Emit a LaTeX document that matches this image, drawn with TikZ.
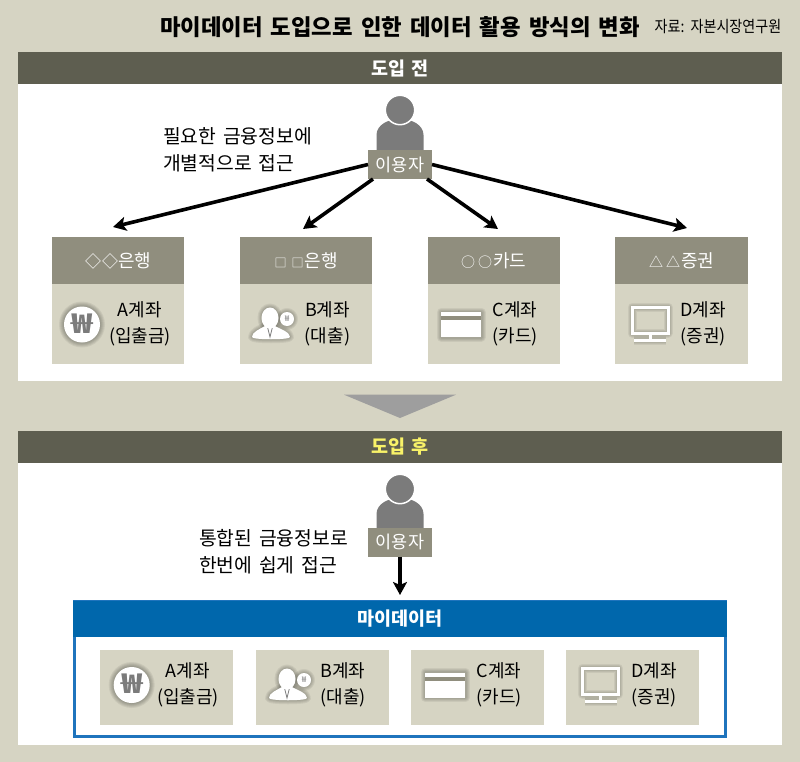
\documentclass[tikz,border=0pt]{standalone}
\usepackage{fontspec}
\setmainfont{Noto Sans CJK KR}[WordSpace=1.6]
\usepackage[HTML]{xcolor}
\usetikzlibrary{positioning, arrows.meta}

\definecolor{paper}{HTML}{D6D4C3}
\definecolor{darkbar}{HTML}{5E5E50}
\definecolor{midbar}{HTML}{908E7E}
\definecolor{personc}{HTML}{7B7B7B}
\definecolor{datablue}{HTML}{0067AC}
\definecolor{frameblue}{HTML}{1F74BD}

\newcommand{\loanbody}{(-18,19) .. controls (-18,14) and (-10,11) .. (-5,8) -- (5,8) .. controls (10,11) and (20,14) .. (20,19) .. controls (20,22) and (-18,22) .. (-18,19) -- cycle}
\newcommand{\marksize}[2]{{\fontsize{#1}{#1}\selectfont #2}}

\tikzset{
  box/.style={rectangle, inner sep=0pt, outer sep=0pt},
  bar/.style={box, fill=darkbar, minimum width=764, minimum height=32, text=white, font=\fontsize{18.5}{20}\bfseries},
  bankhead/.style={box, fill=midbar, minimum width=132.5, minimum height=47, text=white, font=\fontsize{18}{20}\selectfont},
  bankbody/.style={box, fill=paper, minimum width=132.5, minimum height=80},
  acctbody/.style={box, fill=paper, minimum width=133, minimum height=75},
  acct/.style={box, align=center, font=\fontsize{18}{26}\selectfont},
  note/.style={box, align=left, anchor=west, font=\fontsize{19.3}{27}\selectfont},
  userbox/.style={box, fill=midbar, minimum width=64, minimum height=29, text=white, font=\fontsize{17.5}{18}\selectfont},
  flow/.style={line width=3.6pt, -{Stealth[length=13pt,width=14pt,inset=3pt]}},
  glow/.style={black, opacity=0.06, line join=round},
  wonicon/.pic={
    \foreach \r in {23,22,21,20,19} {\fill[glow] (0,0) circle (\r);}
    \fill[white] (0,0) circle (18);
    \node[box, text=personc, xscale=1.3] (-sign) at (0,-1) {\fontsize{27}{27}\bfseries ₩};
  },
  loanicon/.pic={
    \foreach \w in {8,6,4,2} {\draw[glow, line width=\w] \loanbody;
      \draw[glow, line width=\w] (0,0) ellipse (8.5 and 10.5);
      \draw[glow, line width=\w] (17,1) circle (7);}
    \fill[white] \loanbody;
    \draw[personc, line width=0.8pt] (-2.5,9) -- (0,19) -- (2.5,9);
    \fill[white] (0,0) ellipse (8.5 and 10.5);
    \fill[white] (17,1) circle (7);
    \node[box, text=personc] (-sign) at (17,1) {\fontsize{8}{8}\selectfont ₩};
  },
  cardicon/.pic={
    \foreach \w in {9,7,5,3} {\draw[glow, line width=\w] (-20,-12.5) rectangle (20,12.5);}
    \fill[white] (-20,-12.5) rectangle (20,12.5);
    \fill[midbar] (-20,-8.5) rectangle (20,-4.5);
  },
  screenicon/.pic={
    \foreach \w in {9,7,5} {\draw[glow, line width=\w] (-18,-13) rectangle (18,13);
      \draw[glow, line width=\w] (-16,20) -- (16,20);}
    \draw[white, line width=3pt] (-18,-13) rectangle (18,13);
    \draw[white, line width=3pt] (0,13) -- (0,20);
    \draw[white, line width=3pt] (-16,20) -- (16,20);
  },
  personicon/.pic={
    \fill[personc] (-23.5,25) .. controls (-23.5,15) and (-12,9) .. (0,9) .. controls (12,9) and (23.5,15) .. (23.5,25) -- (23.5,40) -- (-23.5,40) -- cycle;
    \filldraw[personc, draw=white, line width=1.5pt] (0,0) circle (14.7);
  }
}

\begin{document}
\begin{tikzpicture}[x=1pt, y=-1pt]
\useasboundingbox (0,0) rectangle (800,762);
\fill[paper] (0,0) rectangle (800,762);

% Title
\node[box, font=\fontsize{22.3}{24}\bfseries] (title) at (400,27) {마이데이터 도입으로 인한 데이터 활용 방식의 변화};
\node[box, xscale=0.88, font=\fontsize{16}{18}\selectfont] (source) at (718,27) {자료: 자본시장연구원};

% Before panel
\fill[white] (18,52) rectangle (782,381);
\node[bar] (before) at (400,68) {도입 전};
\pic at (400,110) {personicon};
\node[userbox] (user) at (400,164.5) {이용자};
\node[note] (beforenote) at (163,149.5) {필요한 금융정보에\\개별적으로 접근};

\node[bankhead] (bankA) at (118.2,260.8) {\marksize{16}{◇\hspace{1pt}◇}은행};
\node[bankhead] (bankB) at (306.2,260.8) {\marksize{12}{□\hspace{5pt}□\hspace{1pt}}은행};
\node[bankhead] (bankC) at (493.8,260.8) {\marksize{14}{○\hspace{3pt}○\hspace{1pt}}카드};
\node[bankhead] (bankD) at (681.7,260.8) {\marksize{14}{△\hspace{3pt}△\hspace{1pt}}증권};
\node[bankbody] (bodyA) at (118.2,324.3) {};
\node[bankbody] (bodyB) at (306.2,324.3) {};
\node[bankbody] (bodyC) at (493.8,324.3) {};
\node[bankbody] (bodyD) at (681.7,324.3) {};
\pic (iconA) at (82,324.5) {wonicon};
\pic (iconB) at (270,318) {loanicon};
\pic at (461,324.5) {cardicon};
\pic at (650,320) {screenicon};
\node[acct] (acctA) at (140,324) {A계좌\\(입출금)};
\node[acct] (acctB) at (327.5,324) {B계좌\\(대출)};
\node[acct] (acctC) at (515,324) {C계좌\\(카드)};
\node[acct] (acctD) at (703,324) {D계좌\\(증권)};

\coordinate (tipA) at (113,227);
\coordinate (tipB) at (303,229);
\coordinate (tipC) at (498,229);
\coordinate (tipD) at (687,228);
\draw[flow] (user.west) -- (tipA);
\draw[flow] ([xshift=5pt]user.south west) -- (tipB);
\draw[flow] ([xshift=-5pt]user.south east) -- (tipC);
\draw[flow] (user.east) -- (tipD);

% Down triangle
\fill[black!38] (344,394.7) -- (456,394.7) -- (400,418) -- cycle;

% After panel
\fill[white] (18,431) rectangle (782,745);
\node[bar] (after) at (400,447) {\textcolor[HTML]{F8F268}{도입 후}};
\pic at (400,489) {personicon};
\node[userbox] (userafter) at (400,542) {이용자};
\node[note] (afternote) at (199,551.5) {통합된 금융정보로\\한번에 쉽게 접근};

\node[box, fill=white, draw=frameblue, line width=2.5pt, minimum width=651, minimum height=135] (frame) at (400,669) {};
\node[box, fill=datablue, minimum width=653.5, minimum height=36, text=white, font=\fontsize{18.5}{20}\bfseries] (mydata) at (400,619) {마이데이터};
\coordinate (tipafter) at (400,595);
\draw[flow] (userafter.south) -- (tipafter);

\node[acctbody] (boxA) at (166.5,687.5) {};
\node[acctbody] (boxB) at (322,687.5) {};
\node[acctbody] (boxC) at (477.5,687.5) {};
\node[acctbody] (boxD) at (632.5,687.5) {};
\pic (iconE) at (131.7,685) {wonicon};
\pic (iconF) at (287,679) {loanicon};
\pic at (445,685) {cardicon};
\pic at (600.5,681) {screenicon};
\node[acct] (acctE) at (188,685) {A계좌\\(입출금)};
\node[acct] (acctF) at (343,685) {B계좌\\(대출)};
\node[acct] (acctG) at (499,685) {C계좌\\(카드)};
\node[acct] (acctH) at (654,685) {D계좌\\(증권)};
\end{tikzpicture}
\end{document}
